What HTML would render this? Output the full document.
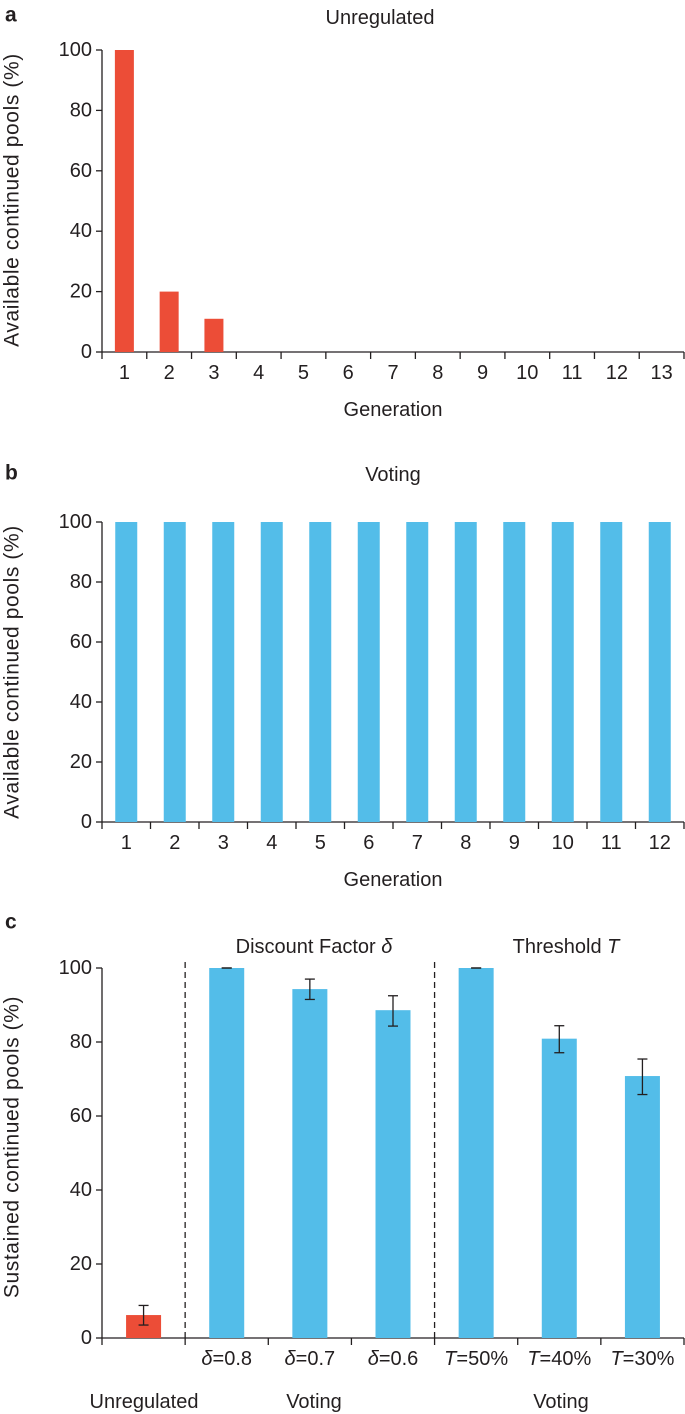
<!DOCTYPE html>
<html><head><meta charset="utf-8"><style>
html,body{margin:0;padding:0;background:#fff;}
svg{display:block;font-family:"Liberation Sans",Arial,sans-serif;}
</style></head><body>
<svg id="fig" width="685" height="1414" viewBox="0 0 685 1414" xmlns="http://www.w3.org/2000/svg"></svg>
<script>
const genA = [1,2,3,4,5,6,7,8,9,10,11,12,13];
const valA = [100,20,11,0,0,0,0,0,0,0,0,0,0];
const genB = [1,2,3,4,5,6,7,8,9,10,11,12];
const valB = [100,100,100,100,100,100,100,100,100,100,100,100];
const yTicks = [0,20,40,60,80,100];
const catC = ["Unregulated","δ=0.8","δ=0.7","δ=0.6","T=50%","T=40%","T=30%"];
const valC = [6.2,100,94.3,88.6,100,80.9,70.8];
const errLoC = [3.5,100,91.5,84.3,100,77.1,65.8];
const errHiC = [8.8,100,97,92.5,100,84.4,75.4];

const NS="http://www.w3.org/2000/svg";
const svg=document.getElementById('fig');
function el(tag,attrs,parent){const e=document.createElementNS(NS,tag);for(const k in attrs)e.setAttribute(k,attrs[k]);(parent||svg).appendChild(e);return e;}
function txt(x,y,s,size,anchor,parent){const t=el('text',{x:x,y:y,'font-size':size,'text-anchor':anchor||'middle','dominant-baseline':'central',fill:'#231f20'},parent);t.textContent=s;return t;}
const RED="#ec4d37", BLUE="#53bde9", INK="#231f20";
const FS=20;

function panel(o){
  const g=el('g',{});
  
  
  const x0=102,x1=684;
  const ys=v=>o.y0-(o.y0-o.y100)*v/100;
  const n=o.cats.length, step=(x1-x0)/n;
  const xs=i=>x0+step*(i+0.5);
  const ya=el('line',{x1:x0,y1:o.y100,x2:x0,y2:o.y0,stroke:INK,'stroke-width':1.3},g);
  
  yTicks.forEach(v=>{
    el('line',{x1:x0-6,y1:ys(v),x2:x0,y2:ys(v),stroke:INK,'stroke-width':1.3},g);
    const t=txt(x0-10,ys(v),String(v),FS,'end',g);
    
  });
  const xa=el('line',{x1:x0,y1:o.y0,x2:x1,y2:o.y0,stroke:INK,'stroke-width':1.3},g);
  
  for(let i=0;i<=n;i++) el('line',{x1:x0+step*i,y1:o.y0,x2:x0+step*i,y2:o.y0+7,stroke:INK,'stroke-width':1.3},g);
  o.cats.forEach((c,i)=>{
    const w=o.bw, v=o.vals[i];
    if(v>0){
      const b=el('rect',{x:xs(i)-w/2,y:ys(v),width:w,height:ys(0)-ys(v),fill:o.colors?o.colors[i]:o.color},g);
      
    }
    if(o.lo){
      const lo=o.lo[i],hi=o.hi[i];
      el('line',{x1:xs(i),y1:ys(hi),x2:xs(i),y2:ys(lo),stroke:INK,'stroke-width':1.3},g);
      el('line',{x1:xs(i)-5,y1:ys(hi),x2:xs(i)+5,y2:ys(hi),stroke:INK,'stroke-width':1.3},g);
      el('line',{x1:xs(i)-5,y1:ys(lo),x2:xs(i)+5,y2:ys(lo),stroke:INK,'stroke-width':1.3},g);
    }
    const s=String(c);
    if(s==='Unregulated') return;
    const t=el('text',{x:xs(i),y:o.y0+21,'font-size':FS,'text-anchor':'middle','dominant-baseline':'central',fill:INK},g);
    if(s[0]==='δ'||s[0]==='T'){
      el('tspan',{'font-style':'italic'},t).textContent=s[0];
      el('tspan',{},t).textContent=s.slice(1);
    } else t.textContent=s;
    
  });
  const yl=el('text',{x:0,y:0,'font-size':21,'letter-spacing':'0.6','text-anchor':'middle','dominant-baseline':'central',fill:INK,transform:`translate(12,${o.ylc}) rotate(-90)`},g);
  yl.textContent=o.ylabel;
  return {g,xs,ys,step,x0};
}

let t=el('text',{x:5,y:15,'font-size':21,'font-weight':'bold','dominant-baseline':'central',fill:INK});t.textContent='a';

t=txt(380,18,'Unregulated',FS);
panel({name:'panel-a-chart',cats:genA,vals:valA,y0:352,y100:50,bw:19,color:RED,ylabel:'Available continued pools (%)',ylc:200});
t=txt(393,410,'Generation',FS);

t=el('text',{x:5,y:473,'font-size':21,'font-weight':'bold','dominant-baseline':'central',fill:INK});t.textContent='b';

t=txt(393,475,'Voting',FS);
panel({name:'panel-b-chart',cats:genB,vals:valB,y0:822,y100:522,bw:22,color:BLUE,ylabel:'Available continued pools (%)',ylc:672});
t=txt(393,880,'Generation',FS);

t=el('text',{x:5,y:922,'font-size':21,'font-weight':'bold','dominant-baseline':'central',fill:INK});t.textContent='c';

const pc=panel({name:'panel-c-chart',cats:catC,vals:valC,lo:errLoC,hi:errHiC,y0:1338,y100:968,bw:35,
  colors:[RED,BLUE,BLUE,BLUE,BLUE,BLUE,BLUE],ylabel:'Sustained continued pools (%)',ylc:1147});
[1,4].forEach(i=>{
  const x=pc.x0+pc.step*i;
  const d=el('line',{x1:x,y1:962,x2:x,y2:1338,stroke:INK,'stroke-width':1.3,'stroke-dasharray':'6,4'});
  
});
t=el('text',{x:314,y:947,'font-size':FS,'text-anchor':'middle','dominant-baseline':'central',fill:INK});

el('tspan',{},t).textContent='Discount Factor ';el('tspan',{'font-style':'italic'},t).textContent='δ';
t=el('text',{x:566,y:947,'font-size':FS,'text-anchor':'middle','dominant-baseline':'central',fill:INK});

el('tspan',{},t).textContent='Threshold ';el('tspan',{'font-style':'italic'},t).textContent='T';
t=txt(144,1402,'Unregulated',FS);
t=txt(314,1402,'Voting',FS);
t=txt(561,1402,'Voting',FS);
</script>
</body></html>
